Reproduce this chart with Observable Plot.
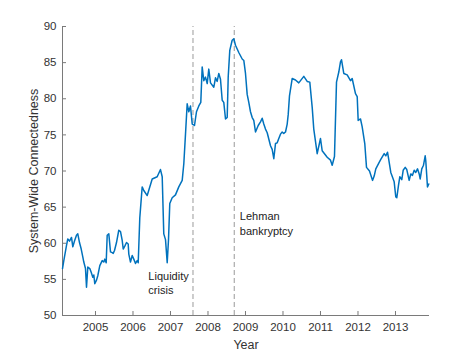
<!DOCTYPE html>
<html>
<head>
<meta charset="utf-8">
<script src="https://cdn.jsdelivr.net/npm/d3@7"></script>
<script src="https://cdn.jsdelivr.net/npm/@observablehq/plot@0.6"></script>
<style>
  html, body { margin: 0; padding: 0; background: #fff; }
  #chart svg { display: block; }
</style>
</head>
<body>
<div id="chart"></div>
<script>
// Time (fractional year) and system-wide connectedness values
const years = [
  2004.120, 2004.155, 2004.227, 2004.261, 2004.307, 2004.360, 2004.395, 2004.440, 2004.493, 2004.528,
  2004.573, 2004.619, 2004.661, 2004.688, 2004.733, 2004.760, 2004.795, 2004.848, 2004.885, 2004.928,
  2004.955, 2004.981, 2005.027, 2005.061, 2005.115, 2005.179, 2005.221, 2005.248, 2005.285, 2005.312,
  2005.355, 2005.400, 2005.445, 2005.472, 2005.507, 2005.560, 2005.621, 2005.667, 2005.712, 2005.739,
  2005.781, 2005.827, 2005.872, 2005.888, 2005.933, 2005.979, 2006.021, 2006.067, 2006.112, 2006.139,
  2006.181, 2006.245, 2006.288, 2006.379, 2006.512,
  2006.645, 2006.733, 2006.779, 2006.821, 2006.867, 2006.912, 2006.947, 2006.981, 2007.045, 2007.133,
  2007.221, 2007.312, 2007.355, 2007.400, 2007.445, 2007.488, 2007.533, 2007.579, 2007.640, 2007.693,
  2007.755, 2007.808, 2007.845, 2007.888, 2007.933, 2007.979, 2008.021, 2008.067, 2008.155, 2008.200,
  2008.245, 2008.288, 2008.333, 2008.379, 2008.421, 2008.467, 2008.512, 2008.539, 2008.581, 2008.645,
  2008.688, 2008.733, 2008.821, 2008.912, 2008.955,
  2009.000, 2009.045, 2009.088, 2009.133, 2009.179, 2009.221, 2009.267, 2009.339, 2009.400, 2009.445,
  2009.488, 2009.533, 2009.579, 2009.667, 2009.712, 2009.755, 2009.800, 2009.845, 2009.888, 2009.933,
  2009.979, 2010.021, 2010.067, 2010.112, 2010.139, 2010.173,
  2010.245, 2010.333, 2010.421, 2010.555, 2010.645, 2010.715, 2010.779, 2010.821,
  2010.912, 2011.000, 2011.045, 2011.179, 2011.267, 2011.312, 2011.373, 2011.427, 2011.488, 2011.533,
  2011.560, 2011.621, 2011.712, 2011.800, 2011.845, 2011.933, 2011.979, 2012.005, 2012.067, 2012.112,
  2012.181, 2012.227, 2012.307, 2012.387, 2012.432, 2012.475, 2012.565, 2012.608, 2012.699, 2012.741,
  2012.787, 2012.813, 2012.875, 2012.965, 2013.008, 2013.035, 2013.080, 2013.115, 2013.168, 2013.205,
  2013.259, 2013.301, 2013.365, 2013.408, 2013.453, 2013.499, 2013.541, 2013.587, 2013.632, 2013.659,
  2013.701, 2013.747, 2013.792, 2013.808, 2013.853, 2013.888
];
const connectedness = [
  56.5, 57.6, 59.7, 60.6, 60.3, 60.8, 59.5, 60.3, 61.1, 61.3,
  60.1, 59.2, 58.1, 57.4, 56.5, 53.9, 56.7, 56.5, 56.0, 55.3,
  55.6, 54.4, 54.9, 55.5, 56.9, 57.6, 57.4, 57.8, 57.3, 61.1,
  61.3, 58.8, 58.7, 58.6, 59.0, 60.1, 61.8, 61.6, 60.4, 59.2,
  59.6, 60.1, 59.9, 58.5, 57.4, 58.3, 57.8, 57.2, 57.6, 57.3,
  63.5, 67.8, 67.3, 66.6, 68.9,
  69.2, 70.2, 69.2, 61.3, 60.5, 57.3, 60.5, 65.5, 66.3, 66.7,
  67.8, 68.7, 71.0, 75.1, 79.3, 78.2, 79.0, 76.5, 76.3, 78.2,
  79.0, 79.5, 84.4, 82.5, 83.0, 82.1, 84.1, 82.2, 81.6, 82.9,
  82.4, 83.5, 82.7, 79.8, 79.5, 77.2, 77.4, 83.0, 86.7, 88.1,
  88.3, 87.4, 86.4, 85.5, 85.3,
  83.5, 80.6, 79.5, 78.2, 77.4, 77.0, 75.4, 76.3, 76.8, 77.3,
  76.5, 75.8, 75.3, 73.5, 73.0, 71.7, 73.8, 73.9, 74.5, 75.1,
  75.4, 75.2, 75.4, 76.5, 77.8, 80.4,
  82.8, 82.6, 82.2, 83.1, 82.4, 82.3, 78.8, 75.8,
  72.4, 74.5, 72.8, 71.9, 71.5, 70.8, 72.0, 82.3, 83.7, 85.1,
  85.4, 83.5, 83.3, 82.5, 82.8, 80.7, 80.3, 77.0, 77.2, 76.1,
  73.8, 70.5, 70.0, 68.7, 69.3, 70.3, 71.2, 71.6, 72.4, 72.1,
  72.6, 71.8, 69.8, 68.5, 66.4, 66.3, 68.0, 69.2, 68.8, 70.1,
  70.5, 70.2, 68.7, 69.6, 69.4, 70.1, 69.8, 70.3, 69.6, 68.9,
  70.3, 70.8, 72.1, 71.4, 67.8, 68.2
];
const xTicks = [2005, 2006, 2007, 2008, 2009, 2010, 2011, 2012, 2013];
const yTicks = [50, 55, 60, 65, 70, 75, 80, 85, 90];
const eventYears = [2007.60, 2008.70];
const eventLabels = ["Liquidity\ncrisis", "Lehman\nbankryptcy"];
const eventLabelX = [2006.41, 2008.85];
const eventLabelY = [54.6, 62.8];

const series = years.map((y, i) => ({year: y, value: connectedness[i]}));
const events = eventYears.map((y, i) => ({year: y, label: eventLabels[i], lx: eventLabelX[i], ly: eventLabelY[i]}));

const axisColor = "#7a7a7a";
const textColor = "#333333";
const yearFormat = d => String(d);

const chart = Plot.plot({
  width: 474,
  height: 355,
  marginLeft: 62,
  marginRight: 45,
  marginTop: 26,
  marginBottom: 40,
  style: {fontFamily: "'Liberation Sans', Arial, Helvetica, sans-serif", fontSize: "11px", color: textColor, background: "#fff"},
  x: {domain: [2004.12, 2013.907]},
  y: {domain: [50, 90]},
  marks: [
    // axis lines
    Plot.ruleY([50], {stroke: axisColor, strokeWidth: 1}),
    Plot.ruleX([2004.12], {stroke: axisColor, strokeWidth: 1}),
    // tick labels (no outward ticks)
    Plot.axisX(xTicks, {tickSize: 0, tickPadding: 7, label: null, fill: textColor, fontSize: 11.5, tickFormat: yearFormat}),
    Plot.axisY(yTicks, {tickSize: 0, tickPadding: 6, label: null, fill: textColor, fontSize: 11.5}),
    // inward tick marks
    Plot.axisX(xTicks, {tickSize: 4, dy: -4, fill: "none", label: null, stroke: axisColor}),
    Plot.axisY(yTicks, {tickSize: 4, dx: 4, fill: "none", label: null, stroke: axisColor}),
    // event lines
    Plot.ruleX(events, {x: "year", y1: 50, y2: 90, stroke: "#9a9a9a", strokeWidth: 1, strokeDasharray: "5,3"}),
    // series
    Plot.line(series, {x: "year", y: "value", stroke: "#0072BD", strokeWidth: 1.5}),
    // annotations
    Plot.text(events, {x: "lx", y: "ly", text: "label", textAnchor: "start", lineHeight: 1.3, fill: "#222", fontSize: 11}),
    // axis titles
    Plot.text(["Year"], {frameAnchor: "bottom", dy: 29, textAnchor: "middle", lineAnchor: "middle", fill: textColor, fontSize: 12.5}),
    Plot.text(["System-Wide Connectedness"], {frameAnchor: "left", dx: -29, rotate: -90, textAnchor: "middle", lineAnchor: "middle", fill: textColor, fontSize: 12.5})
  ]
});
document.getElementById("chart").appendChild(chart);
</script>
</body>
</html>
